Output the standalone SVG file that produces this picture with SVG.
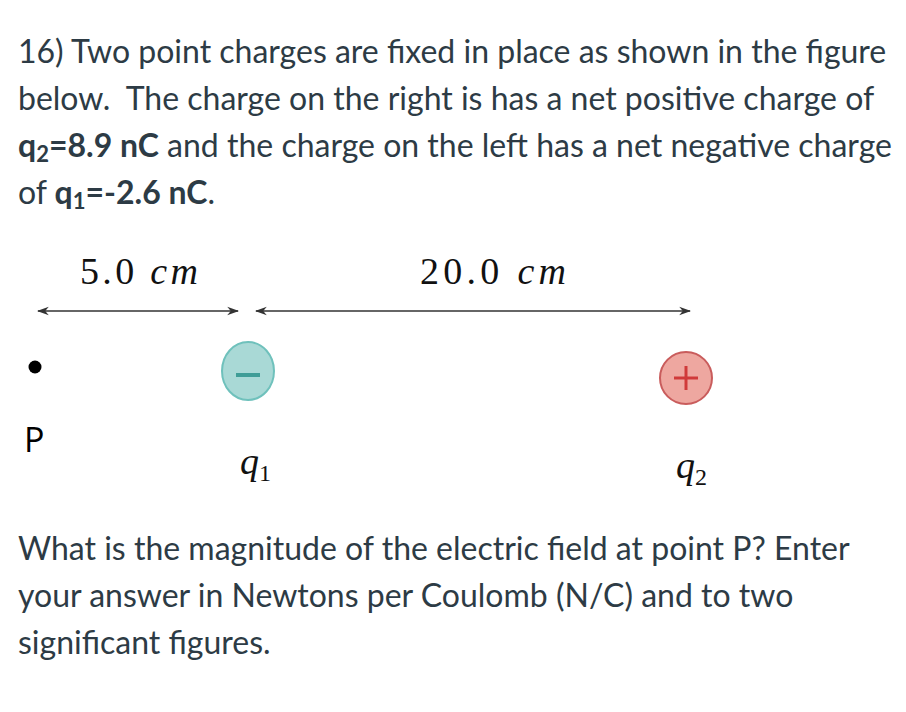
<svg xmlns="http://www.w3.org/2000/svg" width="906" height="712" viewBox="0 0 906 712">
<style>
.t{font-family:Lato,"Noto Sans",sans-serif;font-size:32px;fill:#2d3b45}
.m{font-family:"Liberation Serif",serif;font-size:38px;fill:#111}
.l{stroke:#333;stroke-width:1.5;fill:none}
</style>
<defs><marker id="a" viewBox="0 0 10 10" refX="9" refY="5" markerWidth="8" markerHeight="8" orient="auto-start-reverse"><path d="M0,1.5 L10,5 L0,8.5 L3,5z" fill="#333"/></marker></defs>
<rect width="906" height="712" fill="#fff"/>
<text class="t" x="18" y="63">16) Two point charges are fixed in place as shown in the figure</text>
<text class="t" x="18" y="110">below.&#160; The charge on the right is has a net positive charge of</text>
<text class="t" x="18" y="157"><tspan font-weight="bold">q<tspan font-size="22" dy="5">2</tspan><tspan dy="-5">=8.9 nC</tspan></tspan> and the charge on the left has a net negative charge</text>
<text class="t" x="18" y="204">of <tspan font-weight="bold">q<tspan font-size="22" dy="5">1</tspan><tspan dy="-5">=-2.6 nC</tspan></tspan>.</text>
<g id="labels">
<text class="m" x="80" y="284" textLength="118">5.0 <tspan font-style="italic">cm</tspan></text>
<text class="m" x="420" y="284" textLength="146">20.0 <tspan font-style="italic">cm</tspan></text>
</g>
<g id="connectors">
<line class="l" x1="38" y1="311" x2="238" y2="311" marker-start="url(#a)" marker-end="url(#a)"/>
<line class="l" x1="256" y1="311" x2="690" y2="311" marker-start="url(#a)" marker-end="url(#a)"/>
</g>
<g id="P"><circle cx="35" cy="367" r="6.5" fill="#000"/>
<text x="24" y="452" font-family="'Open Sans',sans-serif" font-size="34" fill="#000">P</text></g>
<g id="q1"><ellipse cx="248" cy="371" rx="26" ry="29" fill="#a9d9d6" stroke="#6fc1bc" stroke-width="2"/>
<line x1="236" y1="375" x2="260" y2="375" stroke="#3f9d97" stroke-width="4"/>
<text class="m" x="240" y="474" font-style="italic">q<tspan font-size="24" font-style="normal" dy="7">1</tspan></text></g>
<g id="q2"><ellipse cx="686" cy="378" rx="26" ry="26" fill="#eea7a0" stroke="#c95c5c" stroke-width="2"/>
<line x1="674" y1="378" x2="698" y2="378" stroke="#d03a3a" stroke-width="3"/>
<line x1="686" y1="366" x2="686" y2="390" stroke="#d03a3a" stroke-width="3"/>
<text class="m" x="676" y="478" font-style="italic">q<tspan font-size="24" font-style="normal" dy="7">2</tspan></text></g>
<text class="t" x="18" y="560">What is the magnitude of the electric field at point P? Enter</text>
<text class="t" x="18" y="607">your answer in Newtons per Coulomb (N/C) and to two</text>
<text class="t" x="18" y="654">significant figures.</text>
</svg>
